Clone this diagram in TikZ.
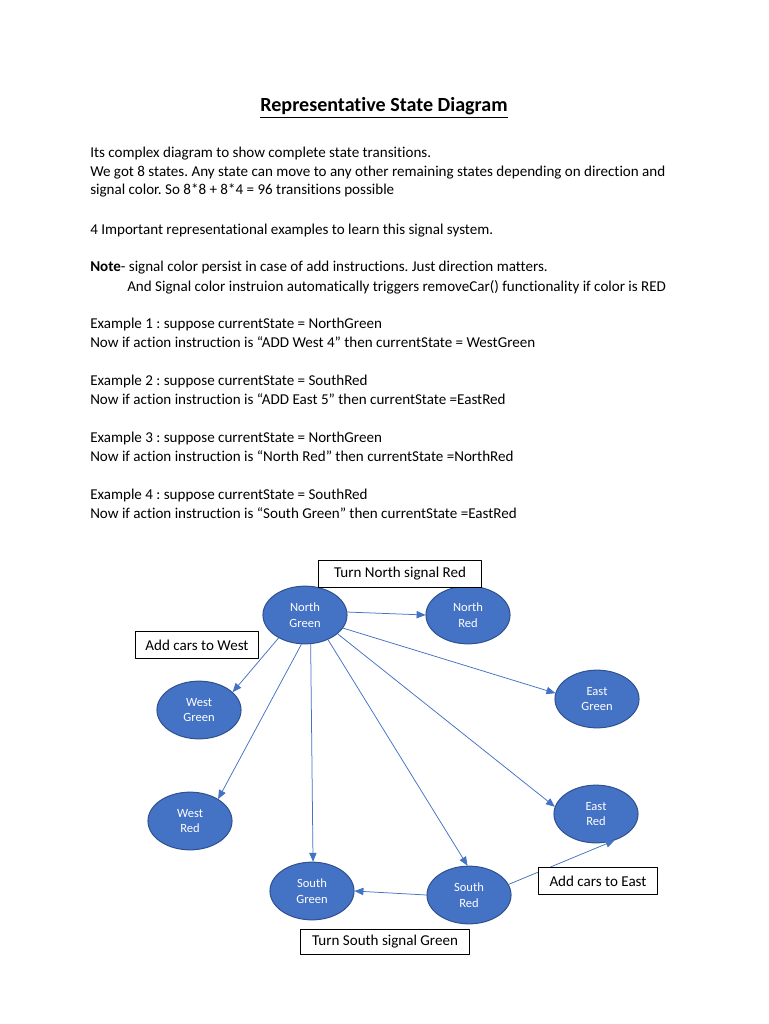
\documentclass[tikz,border=0pt]{standalone}
\usepackage{fontspec}
\setmainfont[Ligatures=NoCommon]{Carlito}
\usetikzlibrary{arrows}
\usetikzlibrary{shapes.geometric}
\definecolor{stateblue}{RGB}{68,114,196}
\definecolor{stateedge}{RGB}{47,82,143}
\frenchspacing

\begin{document}
\begin{tikzpicture}[line cap=round,line join=round,>=triangle 45,x=0.7969pt,y=-0.7969pt,
  state/.style={ellipse,fill=stateblue,draw=stateedge,line width=0.8pt,minimum width=67pt,minimum height=46pt,inner sep=0pt,text=white,align=center,font=\fontsize{10}{12.5}\selectfont},
  notebox/.style={draw=black,fill=white,line width=0.6pt,minimum height=21pt,inner sep=0pt,font=\fontsize{12}{14}\selectfont},
  textline/.style={anchor=base west,inner sep=0pt,font=\fontsize{12}{14}\selectfont},
  trans/.style={->,color=stateblue,line width=0.6pt}]
\fill[white] (0,0) rectangle (768,1024);
\useasboundingbox (0,0) rectangle (768,1024);
% text of the page
\node[anchor=base,inner sep=0pt] (title) at (384,112) {\fontsize{16}{19}\selectfont\bfseries\underline{Representative State Diagram}};
\node[textline] (t1) at (90,158) {Its complex diagram to show complete state transitions.};
\node[textline] (t2) at (90,177) {We got 8 states. Any state can move to any other remaining states depending on direction and};
\node[textline] (t3) at (90,195) {signal color. So 8*8 + 8*4 = 96 transitions possible};
\node[textline] (t4) at (90,234) {4 Important representational examples to learn this signal system.};
\node[textline] (t5) at (90,271) {\textbf{Note}- signal color persist in case of add instructions. Just direction matters.};
\node[textline] (t6) at (127,291) {And Signal color instruion automatically triggers removeCar() functionality if color is RED};
\node[textline] (e1a) at (90,328) {Example 1 : suppose currentState = NorthGreen};
\node[textline] (e1b) at (90,347) {Now if action instruction is “ADD West 4” then currentState = WestGreen};
\node[textline] (e2a) at (90,385) {Example 2 : suppose currentState = SouthRed};
\node[textline] (e2b) at (90,404) {Now if action instruction is “ADD East 5” then currentState =EastRed};
\node[textline] (e3a) at (90,442) {Example 3 : suppose currentState = NorthGreen};
\node[textline] (e3b) at (90,461) {Now if action instruction is “North Red” then currentState =NorthRed};
\node[textline] (e4a) at (90,499) {Example 4 : suppose currentState = SouthRed};
\node[textline] (e4b) at (90,518) {Now if action instruction is “South Green” then currentState =EastRed};
% states
\node[state] (ng) at (305,615) {North\\Green};
\node[state] (nr) at (468,615) {North\\Red};
\node[state] (wg) at (199,710) {West\\Green};
\node[state] (eg) at (597,699) {East\\Green};
\node[state] (wr) at (190,821) {West\\Red};
\node[state] (er) at (596,814) {East\\Red};
\node[state] (sg) at (312,891) {South\\Green};
\node[state] (sr) at (469,895) {South\\Red};
% transitions
\draw[trans] (ng.4) -- (nr.180);
\draw[trans] (ng.221) -- (wg.28);
\draw[trans] (ng.263) -- (wr.38);
\draw[trans] (ng.281) -- (sg.88);
\draw[trans] (ng.313) -- (sr.93);
\draw[trans] (ng.330) -- (er.170);
\draw[trans] (ng.341) -- (eg.172);
\draw[trans] (sr.180) -- (sg.0);
\draw[trans] (sr.15) -- (er.305);
% labels
\node[notebox,minimum width=130pt] (turnnorth) at (400,574) {Turn North signal Red};
\node[notebox,minimum width=98pt] (addwest) at (197,645) {Add cars to West};
\node[notebox,minimum width=95pt] (addeast) at (598,881) {Add cars to East};
\node[notebox,minimum width=135pt,minimum height=20pt] (turnsouth) at (385,942) {Turn South signal Green};
\end{tikzpicture}
\end{document}
